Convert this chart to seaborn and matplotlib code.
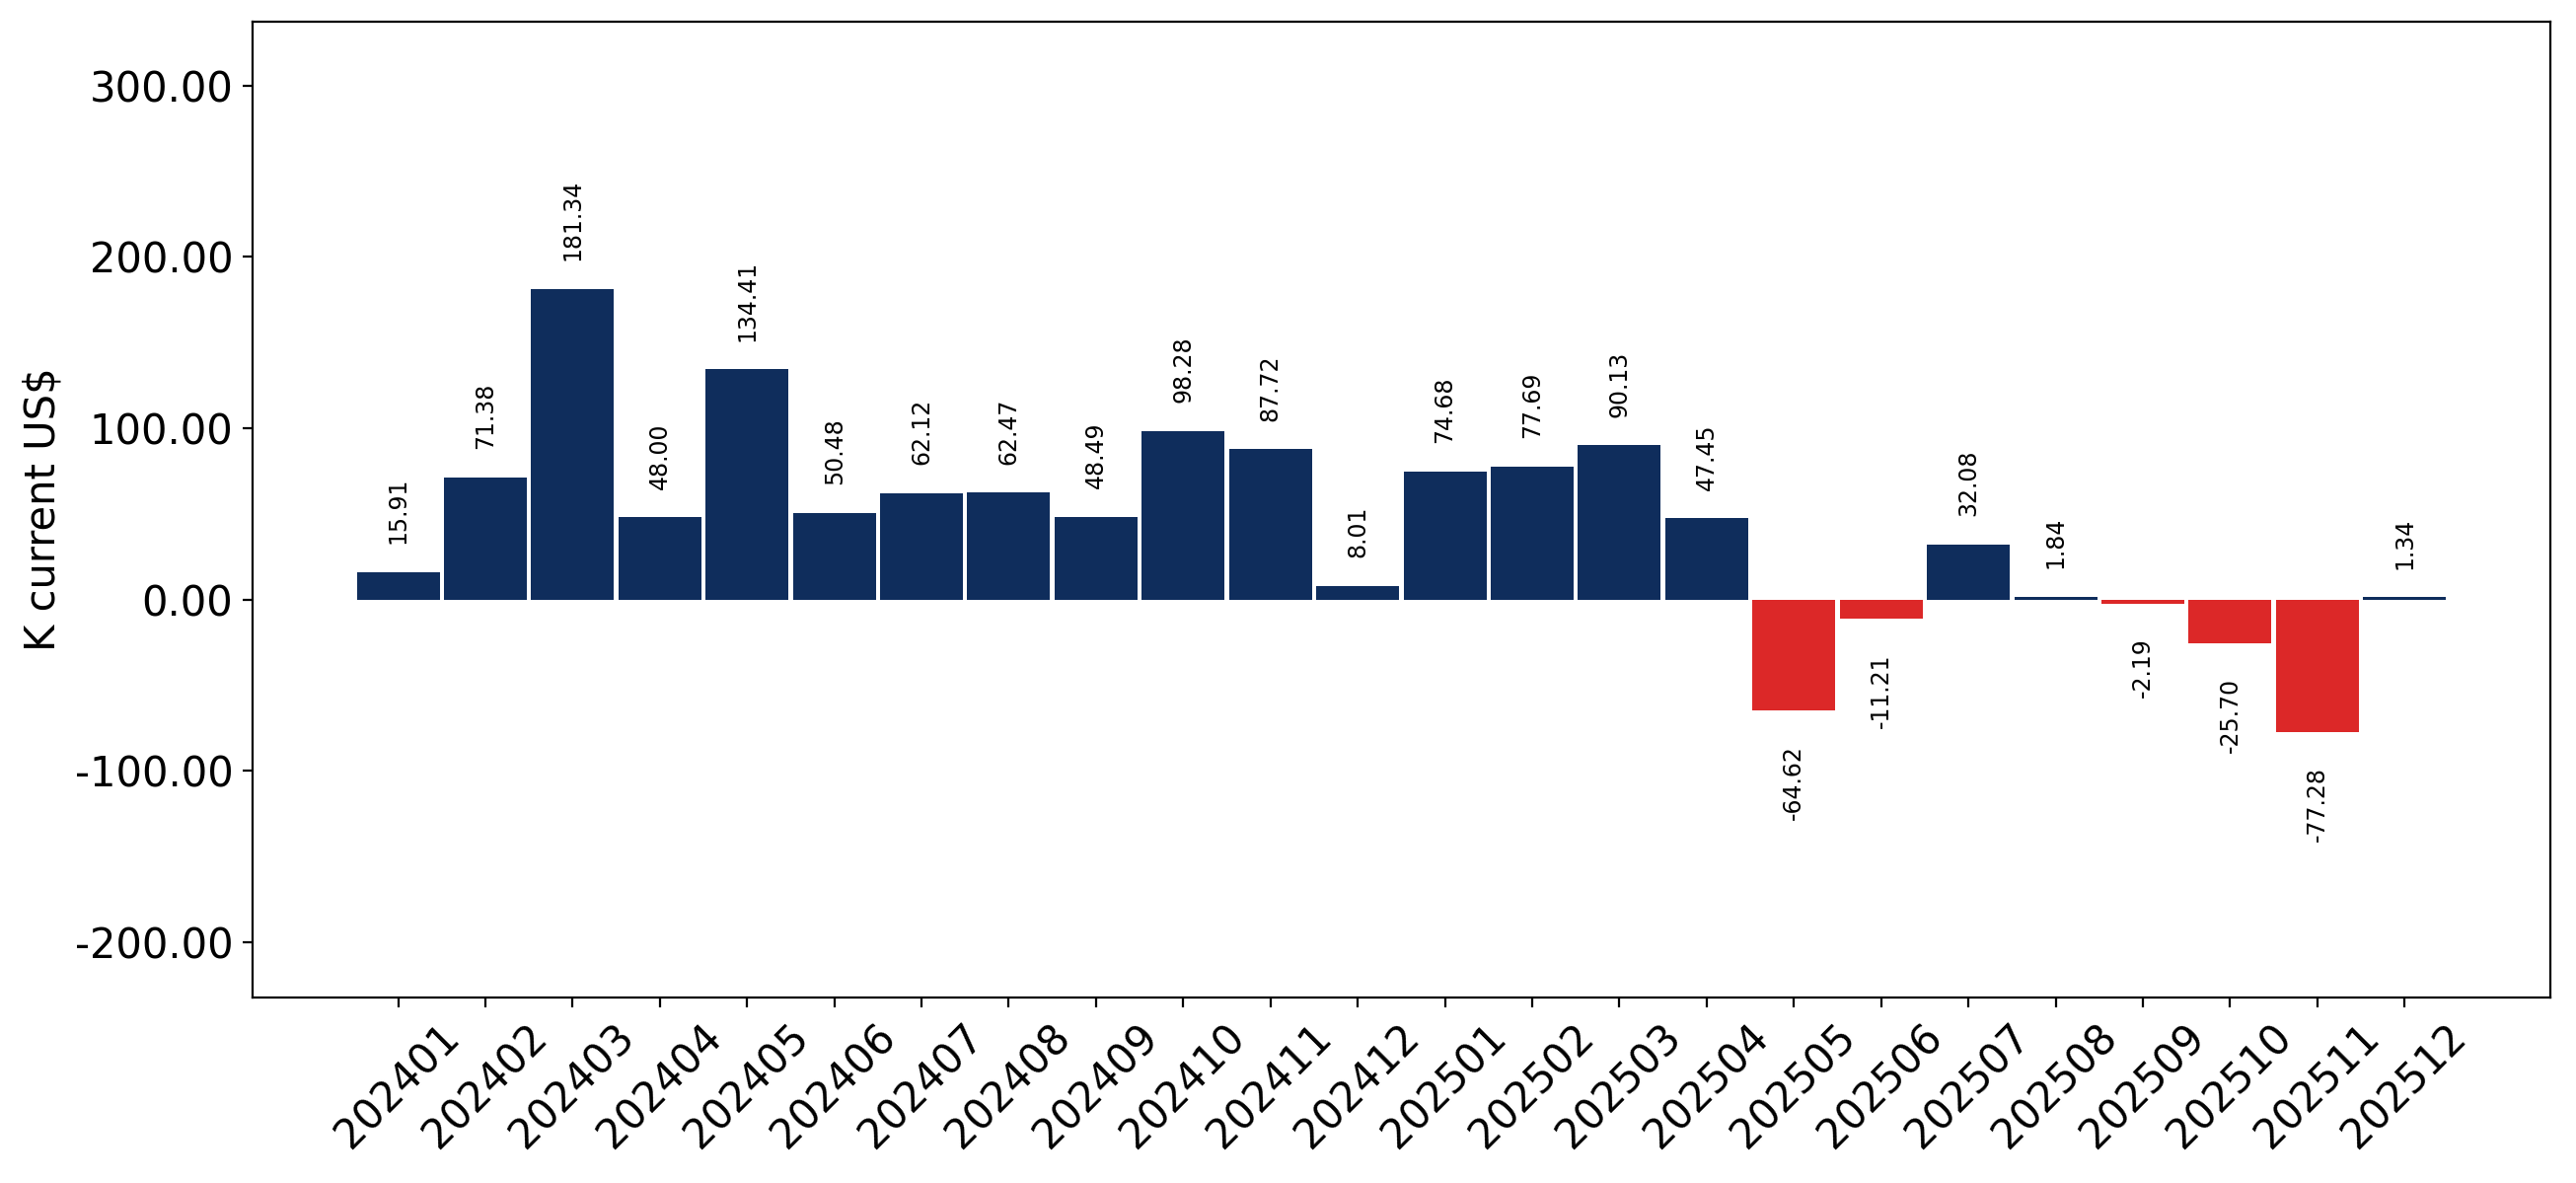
import matplotlib
matplotlib.use("Agg")
import matplotlib.pyplot as plt
import matplotlib.ticker as mticker
import seaborn as sns
import pandas as pd

months = ["202401", "202402", "202403", "202404", "202405", "202406",
          "202407", "202408", "202409", "202410", "202411", "202412",
          "202501", "202502", "202503", "202504", "202505", "202506",
          "202507", "202508", "202509", "202510", "202511", "202512"]
values = [15.91, 71.38, 181.34, 48.00, 134.41, 50.48,
          62.12, 62.47, 48.49, 98.28, 87.72, 8.01,
          74.68, 77.69, 90.13, 47.45, -64.62, -11.21,
          32.08, 1.84, -2.19, -25.70, -77.28, 1.34]

pos_color = "#0F2D5C"
neg_color = "#DC2828"
colors = [pos_color if v >= 0 else neg_color for v in values]

df = pd.DataFrame({"month": months, "value": values})

fig = plt.figure(figsize=(13.055, 5.995), dpi=200)
ax = fig.add_axes([0.098, 0.157, 0.892, 0.825])

sns.barplot(data=df, x="month", y="value", hue="month", palette=colors,
            legend=False, width=0.95, saturation=1, ax=ax)

for i, v in enumerate(values):
    if v >= 0:
        ax.text(i, v + 16.5, f"{v:.2f}", rotation=90, ha="center", va="bottom", fontsize=8.5)
    else:
        ax.text(i, v - 20, f"{v:.2f}", rotation=90, ha="center", va="top", fontsize=8.5)

ax.set_xlim(-1.67, 24.67)
ax.set_ylim(-232, 337.5)
ax.set_yticks([-200, -100, 0, 100, 200, 300])
ax.yaxis.set_major_formatter(mticker.FormatStrFormatter("%.2f"))
ax.set_xlabel("")
ax.set_ylabel("K current US$", fontsize=15)
ax.tick_params(axis="y", labelsize=15)
ax.tick_params(axis="x", labelsize=15, rotation=45)

fig.savefig("out.png", dpi=200)
